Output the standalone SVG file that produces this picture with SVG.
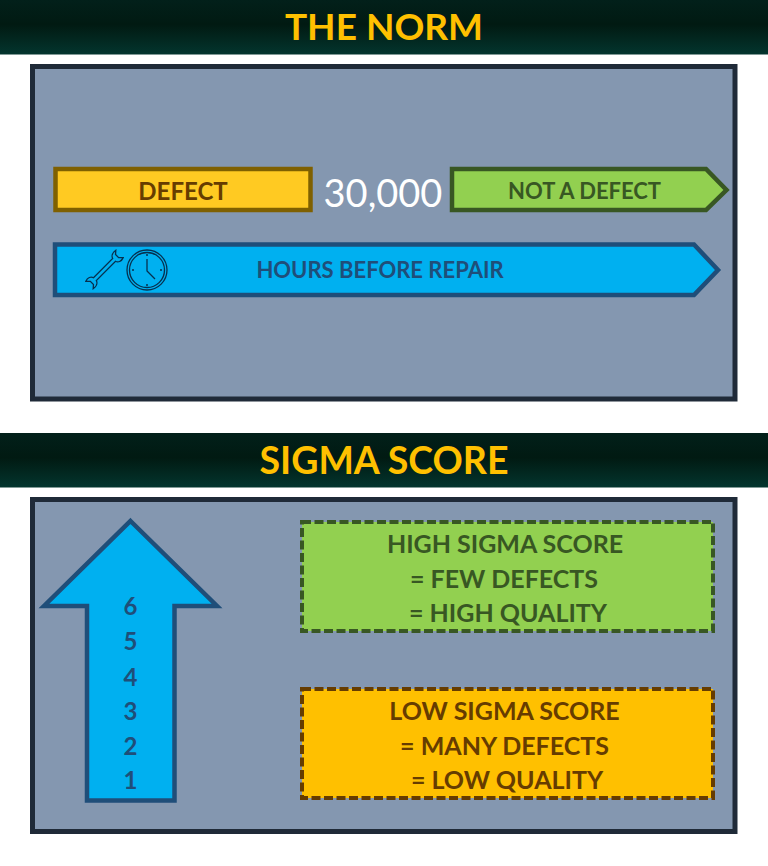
<svg xmlns="http://www.w3.org/2000/svg" width="768" height="866" viewBox="0 0 768 866">
<style>
text{font-family:Lato,"Liberation Sans",sans-serif;font-weight:700;text-anchor:middle}
.h{fill:#ffc000}
.p{fill:#8497b0;stroke:#1f2a38;stroke-width:5}
.blue{fill:#00b0f0;stroke:#1f4e79;stroke-width:4.500;stroke-miterlimit:10}
.bt{fill:#1f4e79}
.gt{fill:#385723}
.ot{fill:#663c00}
.d{stroke-width:4;stroke-dasharray:9 3.500}
.i{fill:none;stroke:#06304f;stroke-width:1.300}
</style>
<defs>
<linearGradient id="hg" x1="0" y1="0" x2="0" y2="1"><stop offset="0" stop-color="#02201a"/><stop offset=".45" stop-color="#011a12"/><stop offset="1" stop-color="#03352e"/></linearGradient>
</defs>
<g id="header-norm"><rect width="768" height="54.500" fill="url(#hg)"/><text class="h" x="384" y="40" font-size="37">THE NORM</text></g>
<g id="panel-norm"><rect class="p" x="32.500" y="66.500" width="702.500" height="332.500"/></g>
<g id="defect"><rect x="55.500" y="169" width="255" height="41" fill="#ffca22" stroke="#7f6000" stroke-width="4.500"/><text class="ot" font-size="24" x="183" y="200">DEFECT</text></g>
<g id="count"><text x="383" y="207" font-size="38" fill="#fff" style="font-weight:400">30,000</text></g>
<g id="not-defect"><path d="M452 169H706L726.500 190L706 210H452Z" fill="#92d050" stroke="#385723" stroke-width="4.500" stroke-miterlimit="10"/><text class="gt" font-size="22" x="584.500" y="199">NOT A DEFECT</text></g>
<g id="hours"><path class="blue" d="M55 244.500H694L718 270L694 295H55Z"/><text class="bt" font-size="22" x="380" y="278">HOURS BEFORE REPAIR</text>
<g id="wrench-icon"><path class="i" transform="translate(104.500 269.500) rotate(-45) scale(.8)" d="M-17 -2.500H17C18 -6 22 -8 27 -7L23 -3.500V2L27 6C22 8 18 6 17 2.500H-17C-18 6 -22 8 -27 7L-23 3.500V-2L-27 -6C-22 -8 -18 -6 -17 -2.500Z" vector-effect="non-scaling-stroke"/></g>
<g id="clock-icon"><circle class="i" cx="147" cy="270" r="20"/><circle class="i" cx="147" cy="270" r="17.500"/><path class="i" d="M147 259V271L155 279"/><circle cx="147" cy="255" r="1" fill="#06304f"/><circle cx="147" cy="285" r="1" fill="#06304f"/><circle cx="133" cy="270" r="1" fill="#06304f"/><circle cx="161" cy="270" r="1" fill="#06304f"/></g></g>
<g id="header-sigma"><rect y="433" width="768" height="54.500" fill="url(#hg)"/><text class="h" x="384" y="474" font-size="37.500">SIGMA SCORE</text></g>
<g id="panel-sigma"><rect class="p" x="32.500" y="499.500" width="702.500" height="332"/></g>
<g id="sigma-arrow"><path class="blue" d="M130.500 521L217 606H174.500V800.500H87V606H44Z"/>
<g class="bt" font-size="24"><text x="130.500" y="615">6</text><text x="130.500" y="650">5</text><text x="130.500" y="686">4</text><text x="130.500" y="720">3</text><text x="130.500" y="755">2</text><text x="130.500" y="789">1</text></g></g>
<g id="high"><rect class="d" x="302" y="522" width="411" height="109" fill="#92d050" stroke="#385723"/><g class="gt" font-size="25"><text x="505" y="553">HIGH SIGMA SCORE</text><text x="504" y="588">= FEW DEFECTS</text><text x="508" y="622">= HIGH QUALITY</text></g></g>
<g id="low"><rect class="d" x="302" y="689" width="411" height="109" fill="#ffc000" stroke="#663c00"/><g class="ot" font-size="25"><text x="504.500" y="720">LOW SIGMA SCORE</text><text x="504.500" y="755">= MANY DEFECTS</text><text x="507" y="789">= LOW QUALITY</text></g></g>
<g id="connectors"/>
</svg>
